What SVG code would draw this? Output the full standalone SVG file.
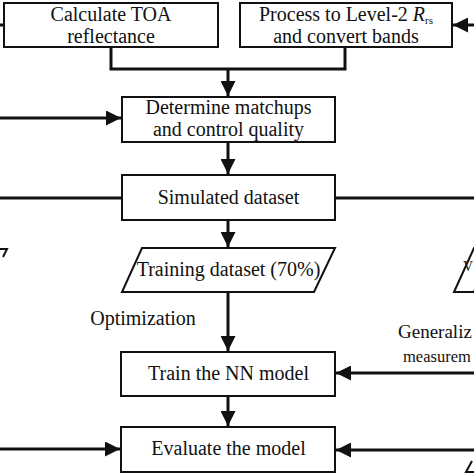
<svg xmlns="http://www.w3.org/2000/svg" width="474" height="474" viewBox="0 0 474 474">
<style>
.box{fill:#fff;stroke:#111;stroke-width:2}
.t{font-family:"Liberation Serif","Times New Roman",serif;font-size:20px;fill:#111;text-anchor:middle}
.ts{font-family:"Liberation Serif","Times New Roman",serif;font-size:19px;fill:#111}
.c{fill:none;stroke:#111;stroke-width:3}
</style>
<defs>
<marker id="ah" viewBox="0 0 10 10" refX="10" refY="5" markerWidth="5" markerHeight="5" orient="auto" markerUnits="strokeWidth">
<path d="M0,0 L10,5 L0,10 Z" fill="#111"/>
</marker>
</defs>
<rect width="474" height="474" fill="#fff"/>
<g id="connectors">
<path class="c" d="M0,25 H4"/>
<path class="c" d="M474,25 H453" marker-end="url(#ah)"/>
<path class="c" d="M111,47 V69 H345 V47"/>
<path class="c" d="M228,69 V96" marker-end="url(#ah)"/>
<path class="c" d="M0,118 H121" marker-end="url(#ah)"/>
<path class="c" d="M228,142 V174" marker-end="url(#ah)"/>
<path class="c" d="M0,198 H122"/>
<path class="c" d="M335,198 H474"/>
<path class="c" d="M228,220 V247" marker-end="url(#ah)"/>
<path class="c" d="M228,292 V351" marker-end="url(#ah)"/>
<path class="c" d="M228,396 V426" marker-end="url(#ah)"/>
<path class="c" d="M0,449 H120" marker-end="url(#ah)"/>
<path class="c" d="M474,373 H336" marker-end="url(#ah)"/>
<path class="c" d="M474,450 H336" marker-end="url(#ah)"/>
</g>
<g id="calc">
<rect class="box" x="4" y="3" width="214" height="44"/>
<text class="t" x="111" y="21">Calculate TOA</text>
<text class="t" x="111" y="43">reflectance</text>
</g>
<g id="process">
<rect class="box" x="240" y="3" width="212" height="44"/>
<text class="t" x="346" y="21">Process to Level-2 <tspan font-style="italic">R</tspan><tspan style="font-size:11px" dy="3">rs</tspan></text>
<text class="t" x="346" y="43">and convert bands</text>
</g>
<g id="matchups">
<rect class="box" x="122" y="97" width="213" height="45"/>
<text class="t" x="228.5" y="114">Determine matchups</text>
<text class="t" x="228.5" y="136">and control quality</text>
</g>
<g id="simulated">
<rect class="box" x="122" y="175" width="213" height="45"/>
<text class="t" x="228.5" y="204">Simulated dataset</text>
</g>
<g id="training">
<polygon class="box" points="142,248 335,248 314,292 122,292"/>
<text class="t" x="228.5" y="276">Training dataset (70%)</text>
</g>
<g id="validation">
<polygon class="box" points="474,248 490,248 474,292 454,292"/>
<text class="ts" x="463" y="271" style="font-size:14px">V</text>
</g>
<g id="left-partial">
<path fill="none" stroke="#111" stroke-width="2" d="M0,249 H7 L3,257"/>
</g>
<g id="bottom-right-partial">
<path fill="none" stroke="#111" stroke-width="2" d="M472,461 L466,472 H474"/>
</g>
<g id="optimization">
<text class="t" x="143" y="325">Optimization</text>
</g>
<g id="generalization">
<text class="ts" x="398" y="338">Generaliz</text>
<text class="ts" x="403" y="362" style="font-size:16.5px">measurem</text>
</g>
<g id="train">
<rect class="box" x="121" y="352" width="214" height="44"/>
<text class="t" x="228.5" y="380">Train the NN model</text>
</g>
<g id="evaluate">
<rect class="box" x="121" y="427" width="214" height="45"/>
<text class="t" x="228.5" y="455">Evaluate the model</text>
</g>
</svg>
